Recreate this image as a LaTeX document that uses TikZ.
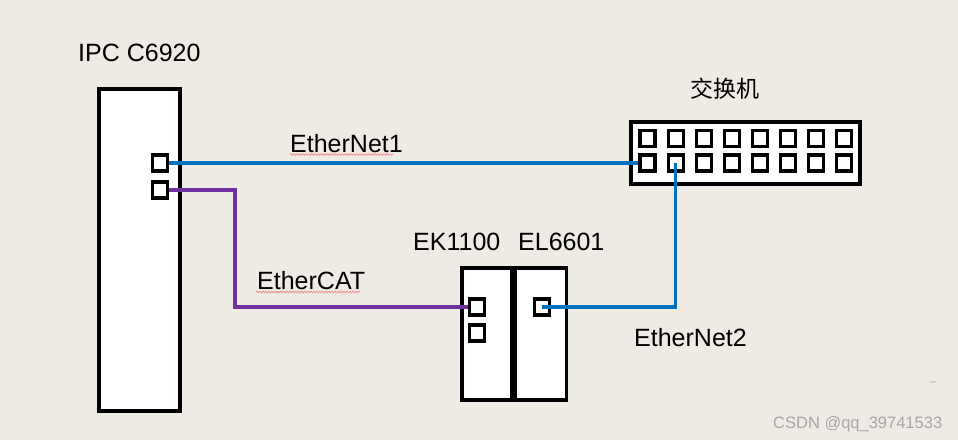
\documentclass[tikz,border=0pt]{standalone}
\usepackage{fontspec}
\setmainfont{Liberation Sans}
\newfontfamily\cjk{Noto Sans CJK SC}
\usetikzlibrary{decorations.pathmorphing}
\definecolor{bg}{HTML}{EEEBE4}
\definecolor{eblue}{HTML}{0070C0}
\definecolor{epurple}{HTML}{7030A0}
\definecolor{wavy}{HTML}{F08A8A}
\tikzset{
  devbox/.style={draw=black, fill=white, line width=3.5pt, inner sep=0pt},
  port/.style={draw=black, fill=white, line width=3.2pt, inner sep=0pt, minimum width=15pt, minimum height=16pt},
  lbl/.style={inner sep=0pt, anchor=base west, font=\fontsize{25}{29}\selectfont},
  cable/.style={line width=3.3pt},
  spell/.style={draw=wavy, line width=0.7pt, decorate, decoration={snake, amplitude=0.9pt, segment length=3pt}}
}
\begin{document}
\begin{tikzpicture}[x=1pt, y=-1pt]
\useasboundingbox (0,0) rectangle (958,440);
\fill[bg] (0,0) rectangle (958,440);

% IPC
\node[devbox, minimum width=81pt, minimum height=322pt] (ipc) at (139.5,250) {};
\node[port] (p1) at (160,163) {};
\node[port] (p2) at (160,190) {};

% switch
\node[devbox, minimum width=229pt, minimum height=62pt] (sw) at (745.5,153) {};
\foreach \i in {1,...,8}{
  \node[port] (sw1\i) at ({647.5+28.1*(\i-1)},138.5) {};
  \node[port] (sw2\i) at ({647.5+28.1*(\i-1)},163) {};
}

% EK1100 / EL6601
\node[devbox, minimum width=50pt, minimum height=132pt] (ek) at (487,334) {};
\node[devbox, minimum width=52pt, minimum height=132pt] (el) at (540.5,334) {};
\draw[line width=7pt] (ek.north east) -- (ek.south east);
\node[port] (ek1) at (477,307) {};
\node[port] (ek2) at (477,333) {};
\node[port] (el1) at (542,307) {};

% cables
\coordinate (bend) at (235,0);
\draw[cable, eblue] (p1.east) -- (sw21.west);
\draw[cable, epurple] (p2.east) -- (p2.east -| bend) |- (ek1.west);
\draw[cable, eblue] (sw22.center) |- (el1.center);

% labels
\node[lbl] (tipc) at (78,61) {IPC C6920};
\node[lbl] (teth1) at (290,152) {EtherNet1};
\node[lbl] (tcat) at (257,289) {EtherCAT};
\node[lbl] (tek) at (413,250) {EK1100};
\node[lbl] (tel) at (518,250) {EL6601};
\node[lbl] (teth2) at (634,346) {EtherNet2};
\node[inner sep=0pt, anchor=base, font=\cjk\fontsize{23}{27}\selectfont] (tsw) at (725,97) {交换机};
\node[inner sep=0pt, anchor=base west, text=gray!70, font=\fontsize{16.5}{20}\selectfont] (wm) at (773,428) {CSDN @qq\_39741533};
\node[inner sep=0pt, text=gray!70, font=\fontsize{12}{14}\selectfont] (dash) at (933,384) {–};

% spell-check underlines
\draw[spell] (teth1.base west) ++(0,2.5) -- ++(103,0);
\draw[spell] (tcat.base west) ++(-1,3) -- ++(104,0);
\end{tikzpicture}
\end{document}
